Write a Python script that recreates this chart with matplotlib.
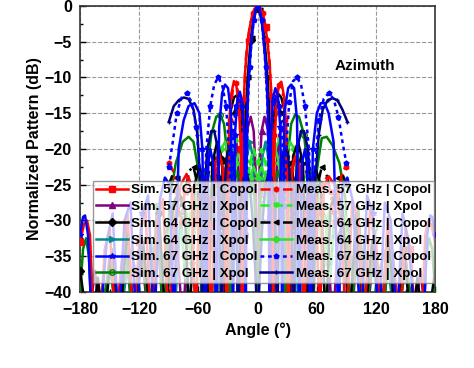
import matplotlib
matplotlib.use("Agg")
import matplotlib.pyplot as plt
from matplotlib.ticker import MultipleLocator

plt.rcParams['font.family'] = ['Liberation Sans', 'DejaVu Sans']
plt.rcParams['font.weight'] = 'bold'

# (angle deg, normalized dB); -45 = null below axis
sim57_co = [(-180,-33),(-176,-30.5),(-173,-30),(-170,-32),(-166,-45),(-160,-45),(-155,-34),(-150,-31),(-144,-45),(-138,-36),(-132,-29),(-126,-45),(-120,-33),(-114,-28),(-108,-45),(-102,-30),(-96,-27),(-90,-45),(-84,-30),(-78,-25),(-72,-23.5),(-67,-26),(-63,-45),(-59,-27),(-55,-24.5),(-51,-27),(-47,-45),(-43,-22),(-39,-20.5),(-35,-23),(-31,-45),(-29,-17),(-27,-12.5),(-24,-10.5),(-21.5,-11.2),(-19,-14),(-17,-20),(-15.5,-45),(-14.5,-15),(-13,-10),(-12,-8),(-10,-5),(-8,-3),(-6,-1.6),(-3,-0.4),(0,0),(3,-0.4),(6,-1.6),(8,-3),(10,-5),(12,-8),(13,-10),(14.5,-15),(15.5,-45),(17,-20),(19,-14),(21.5,-11),(24,-10.6),(27,-12.8),(29,-17),(31,-45),(35,-23),(39,-21),(43,-22.5),(47,-45),(51,-27),(55,-24),(59,-26.5),(63,-45),(67,-25.5),(72,-23.8),(78,-25),(84,-30),(90,-45),(96,-27),(102,-30),(108,-45),(114,-28.5),(120,-33),(126,-45),(132,-29.5),(138,-36),(144,-45),(150,-31),(155,-34),(160,-45),(166,-45),(170,-32),(173,-30),(176,-30.5),(180,-33)]
sim57_xp = [(-180,-40),(-172,-45),(-165,-37),(-158,-45),(-150,-35),(-142,-45),(-134,-33),(-126,-45),(-118,-34),(-110,-45),(-102,-31),(-95,-45),(-88,-30),(-82,-32),(-76,-45),(-70,-30),(-64,-28),(-58,-31),(-54,-45),(-50,-30),(-45,-25),(-40,-23),(-36,-26),(-33,-45),(-30,-21),(-26,-17.5),(-22,-18),(-19,-24),(-16,-45),(-13,-22),(-10,-17),(-7,-15.5),(-4,-17.5),(-2,-23),(0,-45),(2,-23),(4,-17.5),(7,-15.5),(10,-17),(13,-22),(16,-45),(19,-24),(22,-18),(26,-17),(30,-20.5),(33,-45),(36,-26),(40,-23),(45,-25),(50,-30),(54,-45),(58,-31),(64,-28),(70,-30),(76,-45),(82,-32),(88,-30),(95,-45),(102,-31),(110,-45),(118,-34),(126,-45),(134,-33),(142,-45),(150,-35),(158,-45),(165,-37),(172,-45),(180,-40)]
sim64_co = [(-180,-37),(-177,-40),(-174,-45),(-168,-45),(-162,-38),(-156,-45),(-148,-34),(-140,-45),(-132,-31),(-125,-45),(-116,-33),(-108,-45),(-100,-29),(-93,-45),(-86,-28),(-80,-26),(-74,-28),(-69,-45),(-64,-25),(-59,-22.5),(-54,-25),(-50,-45),(-46,-22),(-41,-19),(-36,-21.5),(-32,-45),(-29.5,-20),(-27,-14.5),(-24,-12.8),(-21,-12.5),(-18,-13.5),(-16,-17),(-14,-45),(-13,-20),(-11,-12.5),(-9,-8),(-7,-4.8),(-5,-2.5),(-3,-1),(0,0),(3,-1),(5,-2.5),(7,-4.8),(9,-8),(11,-12.5),(13,-20),(14,-45),(16,-17),(18,-13.5),(21,-12.3),(24,-12.8),(27,-14.5),(29.5,-20),(32,-45),(36,-21),(41,-19),(46,-22),(50,-45),(54,-25),(59,-22.8),(64,-25),(69,-45),(74,-28),(80,-26),(86,-28),(93,-45),(100,-29),(108,-45),(116,-33),(125,-45),(132,-31),(140,-45),(148,-34),(156,-45),(162,-38),(168,-45),(174,-45),(177,-40),(180,-37)]
sim64_xp = [(-180,-45),(-170,-40),(-160,-45),(-150,-36),(-140,-45),(-130,-34),(-121,-38),(-115,-45),(-108,-33),(-100,-45),(-92,-31),(-85,-45),(-78,-29),(-70,-45),(-62,-27),(-55,-45),(-48,-26),(-42,-45),(-36,-24),(-30,-45),(-25,-23),(-20,-21),(-16,-45),(-12,-22),(-8,-19),(-5,-21),(-2,-30),(0,-45),(2,-30),(5,-21),(8,-19),(12,-22),(16,-45),(20,-21),(25,-23),(30,-45),(36,-24),(42,-45),(48,-26),(55,-45),(62,-27),(70,-45),(78,-29),(85,-45),(92,-31),(100,-45),(108,-33),(115,-45),(121,-38),(130,-34),(140,-45),(150,-36),(160,-45),(170,-40),(180,-45)]
sim67_co = [(-180,-32),(-177,-29.5),(-175,-29.3),(-172,-32),(-168,-45),(-160,-45),(-153,-33),(-147,-29),(-141,-45),(-135,-30),(-129,-27.5),(-123,-45),(-117,-29),(-111,-26.5),(-105,-45),(-99,-27),(-94,-24),(-89,-25),(-85,-45),(-80,-20),(-75,-16),(-70,-14),(-64,-13.6),(-59,-15),(-56,-20),(-53,-45),(-50,-22),(-48,-20),(-45,-22),(-42,-45),(-39,-17),(-36,-12.2),(-33,-11),(-30,-11.5),(-27,-15),(-25,-45),(-23,-18),(-20.5,-13),(-18,-12),(-15.5,-13.5),(-13.5,-18),(-12,-45),(-11,-18),(-9.5,-11.5),(-8,-8),(-6,-4.5),(-4,-2),(-2,-0.5),(0,0),(2,-0.5),(4,-2),(6,-4.5),(8,-8),(9.5,-11.5),(11,-18),(12,-45),(13.5,-18),(15.5,-13),(18,-11.5),(20.5,-12.5),(23,-17),(25,-45),(27,-15),(31,-11.5),(34,-11),(37,-11.5),(40,-16),(42,-45),(45,-22),(48,-20),(50,-22),(53,-45),(56,-20),(60,-15),(64,-13.6),(68,-13.6),(72,-15),(77,-19),(82,-45),(86,-25),(91,-24),(96,-27),(105,-45),(111,-26.5),(117,-29),(123,-45),(129,-27.5),(135,-30),(141,-45),(147,-29),(153,-33),(160,-45),(168,-45),(172,-32),(175,-29.3),(177,-29.5),(180,-32)]
sim67_xp = [(-180,-40),(-177,-34),(-174,-32.5),(-171,-35),(-168,-45),(-160,-45),(-150,-36),(-142,-45),(-134,-33),(-126,-45),(-118,-31),(-110,-45),(-102,-28),(-95,-45),(-89,-27),(-83,-22),(-76,-19),(-70,-18.3),(-65,-19),(-60,-23),(-56,-45),(-52,-24),(-47,-18),(-42,-15.5),(-38,-15.2),(-34,-16.5),(-30,-22),(-28,-45),(-25,-26),(-21,-23),(-17,-24.5),(-14,-45),(-11,-27),(-7,-24),(-3,-27),(0,-45),(3,-27),(7,-24),(11,-27),(14,-45),(17,-24.5),(21,-23),(25,-26),(28,-45),(30,-22),(34,-16.5),(38,-15.2),(42,-15.5),(47,-18),(52,-24),(56,-45),(60,-23),(65,-18.5),(70,-18.3),(76,-19.5),(83,-22),(89,-27),(95,-45),(102,-28),(110,-45),(118,-31),(126,-45),(134,-33),(142,-45),(150,-36),(160,-45),(168,-45),(171,-35),(174,-32.5),(177,-34),(180,-40)]

meas57_co = [(-90,-22),(-86,-23),(-82,-26),(-78,-31),(-74,-26),(-70,-24),(-66,-25.5),(-62,-31),(-58,-27),(-54,-25),(-50,-27),(-46,-34),(-42,-23),(-38,-21),(-34,-23),(-31,-32),(-28,-16),(-25,-11.5),(-22,-10.8),(-19,-12.5),(-17,-18),(-15.5,-30),(-14,-13),(-12,-7.5),(-10,-4.8),(-8,-2.8),(-5,-1),(-2,-0.2),(0,0),(2,-0.2),(5,-1),(8,-2.8),(10,-4.8),(12,-7.3),(14,-12.5),(15.5,-30),(17,-18),(19,-12.5),(22,-11),(25,-11.5),(28,-16),(31,-32),(34,-23),(38,-21),(42,-23),(46,-34),(50,-27),(54,-25),(58,-27),(62,-31),(66,-25),(70,-24),(74,-26),(78,-31),(82,-26),(86,-23),(90,-22.5)]
meas57_xp = [(-90,-30),(-84,-27),(-78,-30),(-73,-38),(-68,-28),(-62,-25),(-56,-27),(-51,-35),(-46,-24),(-40,-21),(-34,-23),(-30,-33),(-26,-21),(-21,-18.5),(-16,-21),(-12,-30),(-8,-22),(-4,-20),(0,-22),(4,-20),(8,-22),(12,-30),(16,-21),(21,-18.5),(26,-21),(30,-33),(34,-23),(40,-21),(46,-24),(51,-35),(56,-27),(62,-25),(68,-28),(73,-38),(78,-30),(84,-27),(90,-30)]
meas64_co = [(-90,-25),(-86,-23.5),(-82,-24),(-78,-28),(-74,-26),(-69,-23),(-65,-22.5),(-61,-25),(-57,-33),(-53,-26),(-48,-22),(-44,-21),(-40,-24),(-36,-32),(-32,-22),(-28,-18),(-24,-15),(-20,-13.5),(-17,-15),(-14.5,-22),(-13,-32),(-11.5,-16),(-10,-10),(-8,-7.5),(-6,-4.5),(-4,-2.2),(-2,-0.6),(0,0),(2,-0.6),(4,-2.2),(6,-4.5),(8,-7.5),(10,-10),(11.5,-16),(13,-32),(14.5,-22),(17,-15),(20,-13.5),(24,-15),(28,-18),(32,-22),(36,-32),(40,-24),(44,-21),(48,-22),(53,-26),(57,-33),(61,-25),(65,-22.5),(69,-23),(74,-26),(78,-28),(82,-24),(86,-23.5),(90,-25)]
meas64_xp = [(-90,-32),(-84,-28),(-78,-27),(-72,-29),(-67,-36),(-62,-27),(-56,-23),(-51,-24),(-46,-30),(-42,-26),(-37,-20),(-33,-19),(-29,-21),(-26,-28),(-22,-22),(-18,-20),(-15,-22),(-12,-30),(-8,-24),(-4,-22.5),(0,-24),(4,-22.5),(8,-24),(12,-30),(15,-22),(18,-20),(22,-22),(26,-28),(29,-21),(33,-19),(37,-20),(42,-26),(46,-30),(51,-24),(56,-23),(62,-27),(67,-36),(72,-29),(78,-27),(84,-28),(90,-32)]
meas67_co = [(-90,-22.5),(-86,-19),(-82,-15),(-77,-12.8),(-72,-12.2),(-67,-13.5),(-62,-17),(-58,-24),(-55,-30),(-52,-20),(-48,-14),(-44,-11),(-40,-10),(-36,-11),(-32,-14),(-29,-20),(-27,-28),(-25,-18),(-22,-14),(-19,-12.8),(-16,-14),(-13,-20),(-11.5,-30),(-10,-14),(-8,-8.5),(-6,-4.5),(-4,-2),(-2,-0.5),(0,0),(2,-0.5),(4,-2),(6,-4.6),(8,-8.5),(10,-14),(11.5,-30),(13,-19),(16,-13.5),(19,-12.5),(22,-14),(25,-18),(27,-28),(29,-20),(32,-13.5),(36,-10.5),(40,-10),(44,-11),(48,-14),(52,-20),(55,-30),(58,-23),(62,-16),(67,-13),(72,-12.2),(77,-13),(82,-15.5),(86,-19),(90,-22)]
meas67_xp = [(-90,-16.2),(-85,-14),(-80,-13.2),(-75,-12.8),(-70,-13),(-65,-14.5),(-61,-18),(-58,-25),(-56,-45),(-54,-26),(-51,-20),(-47,-17.5),(-44,-17.5),(-41,-19.5),(-39,-24),(-37,-45),(-34,-26),(-31,-21),(-28,-20),(-25,-21),(-22,-26),(-20,-45),(-17,-27),(-14,-24),(-11,-23.5),(-8,-25),(-5,-30),(-2,-38),(0,-45),(2,-38),(5,-30),(8,-25),(11,-23.5),(14,-24),(17,-27),(20,-45),(22,-26),(25,-21),(28,-20),(31,-21),(34,-26),(37,-45),(39,-24),(41,-19.5),(44,-17.5),(47,-17.5),(51,-20),(54,-26),(56,-45),(58,-25),(62,-18),(66,-14.5),(71,-13.2),(76,-12.9),(81,-13.2),(86,-14.5),(91,-16.2)]

# label, data, color, linestyle, marker, zorder
series = [
    ("Sim. 57 GHz | Copol", sim57_co, "#ff0000", "-", "s", 5),
    ("Sim. 57 GHz | Xpol", sim57_xp, "#800080", "-", "^", 3),
    ("Sim. 64 GHz | Copol", sim64_co, "#000000", "-", "D", 4),
    ("Sim. 64 GHz | Xpol", sim64_xp, "#008b8b", "-", ">", 2),
    ("Sim. 67 GHz | Copol", sim67_co, "#0000ff", "-", "*", 7),
    ("Sim. 67 GHz | Xpol", sim67_xp, "#008000", "-", "o", 3),
    ("Meas. 57 GHz | Copol", meas57_co, "#ff0000", (0, (4, 2, 1, 2)), "h", 5),
    ("Meas. 57 GHz | Xpol", meas57_xp, "#22ee22", "--", "v", 3),
    ("Meas. 64 GHz | Copol", meas64_co, "#000000", (0, (4, 2, 1, 2)), "<", 4),
    ("Meas. 64 GHz | Xpol", meas64_xp, "#33dd33", "-", "D", 3),
    ("Meas. 67 GHz | Copol", meas67_co, "#0000ff", (0, (1.5, 1.5)), "p", 8),
    ("Meas. 67 GHz | Xpol", meas67_xp, "#000080", "-", "+", 6),
]

fig = plt.figure(figsize=(4.74, 3.68), dpi=100)
ax = fig.add_axes([0.169, 0.2065, 0.749, 0.7775])

for label, pts, color, ls, mk, z in series:
    ang = [p[0] for p in pts]
    db = [p[1] for p in pts]
    if label.startswith("Sim"):
        ax.plot(ang, db, color=color, linestyle=ls, linewidth=1.8, marker=mk,
                markersize=4, markevery=12, mfc='none' if mk == 'o' else color,
                label=label, zorder=z)
    else:
        ax.plot(ang, db, color=color, linestyle=ls, linewidth=1.8, marker=mk,
                markersize=3.5, markevery=2, label=label, zorder=z)

ax.set_xlim(-180, 180)
ax.set_ylim(-40, 0)
ax.set_xticks([-180, -120, -60, 0, 60, 120, 180])
ax.set_yticks([0, -5, -10, -15, -20, -25, -30, -35, -40])
ax.xaxis.set_minor_locator(MultipleLocator(30))
ax.yaxis.set_minor_locator(MultipleLocator(2.5))
ax.tick_params(which='both', direction='in', labelsize=11.5, width=1)
ax.tick_params(which='major', length=4)
ax.tick_params(which='minor', length=2)
ax.tick_params(axis='x', which='major', pad=7)
ax.tick_params(axis='y', which='major', pad=6)
ax.grid(True, linestyle='--', color='#999999', linewidth=0.8)
for sp in ax.spines.values():
    sp.set_linewidth(1.2)
    sp.set_color('#333333')
ax.set_axisbelow(True)

ax.set_xlabel('Angle (°)', fontsize=11.5, fontweight='bold', labelpad=4)
ax.set_ylabel('Normalized Pattern (dB)', fontsize=11.5, fontweight='bold', labelpad=2)
ax.text(109, -8.4, 'Azimuth', fontsize=11, fontweight='bold', ha='center', va='center')

leg = ax.legend(ncol=2, loc='lower left', bbox_to_anchor=(0.035, 0.03),
                prop={'size': 9.6, 'weight': 'bold'}, handlelength=2.4,
                handletextpad=0.25, columnspacing=0.2, labelspacing=0.33,
                borderpad=0.25, borderaxespad=0, fancybox=False,
                framealpha=0.75, edgecolor='#777777')
leg.set_zorder(10)

fig.savefig('out.png', dpi=100)
